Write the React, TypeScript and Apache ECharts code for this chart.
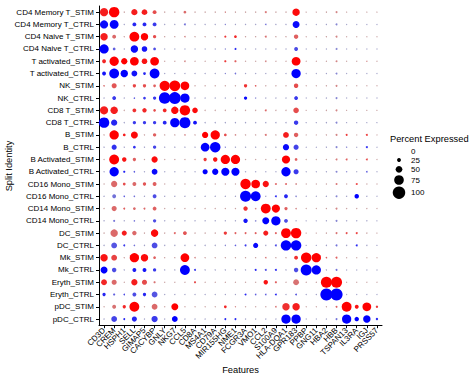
import React, { useEffect, useRef } from "react";
import * as echarts from "echarts";

const features = ["CD3D","CREM","HSPH1","SELL","GIMAP5","CACYBP","GNLY","NKG7","CCL5","CD8A","MS4A1","CD79A","MIR155HG","NME1","FCGR3A","VMO1","CCL2","S100A9","HLA-DQA1","GPR183","PPBP","GNG11","HBA2","HBB","TSPAN13","IL3RA","IGJ","PRSS57"];

const groups = ["CD4 Memory T_STIM","CD4 Memory T_CTRL","CD4 Naive T_STIM","CD4 Naive T_CTRL","T activated_STIM","T activated_CTRL","NK_STIM","NK_CTRL","CD8 T_STIM","CD8 T_CTRL","B_STIM","B_CTRL","B Activated_STIM","B Activated_CTRL","CD16 Mono_STIM","CD16 Mono_CTRL","CD14 Mono_STIM","CD14 Mono_CTRL","DC_STIM","DC_CTRL","Mk_STIM","Mk_CTRL","Eryth_STIM","Eryth_CTRL","pDC_STIM","pDC_CTRL"];

// percent of cells expressing each feature (rows follow `groups`, columns follow `features`)
const percentExpressed = [
  [62,82,3,46,41,25,3,3,15,3,3,3,3,3,3,3,8,3,3,56,2,2,3,8,2,2,2,2],
  [62,68,3,25,25,25,3,3,8,3,3,3,3,3,3,3,5,3,3,52,2,2,3,8,2,2,2,2],
  [56,25,3,77,56,20,3,3,5,3,3,3,10,15,3,3,8,3,3,30,2,2,3,8,2,2,2,2],
  [72,15,3,56,40,15,3,3,3,3,3,3,3,8,3,3,3,3,3,25,2,2,3,8,2,2,2,2],
  [25,72,46,67,40,67,3,3,5,3,3,3,10,10,3,3,5,3,3,67,2,2,3,8,2,2,3,2],
  [25,77,56,42,15,77,3,3,3,3,3,3,3,5,3,3,3,3,3,72,2,2,3,8,2,2,2,2],
  [5,35,3,20,20,15,80,85,67,3,3,3,3,3,20,5,3,3,3,30,2,2,3,8,2,2,2,2],
  [3,25,3,5,15,20,92,95,72,3,3,3,3,3,20,3,3,3,3,25,2,2,3,8,2,2,2,2],
  [62,56,3,25,30,15,25,56,82,40,3,3,3,3,3,3,8,3,3,40,2,2,3,8,2,2,2,2],
  [82,46,3,20,20,20,25,72,87,25,3,3,3,3,3,3,3,3,3,30,2,2,3,8,2,2,2,2],
  [3,72,15,52,3,20,3,3,5,3,46,72,15,5,3,3,8,3,42,30,2,2,3,8,8,2,8,2],
  [3,36,3,15,3,20,3,3,3,3,67,82,3,3,3,3,3,3,46,36,2,2,3,8,3,2,8,2],
  [3,77,30,20,3,46,3,3,3,3,20,30,72,72,3,3,3,3,62,15,2,2,3,8,8,2,8,2],
  [3,72,10,5,3,42,3,3,3,3,36,46,62,62,3,3,3,3,72,36,2,2,3,8,3,2,5,2],
  [3,46,15,25,20,25,3,3,3,3,3,3,3,3,82,67,46,8,8,5,2,2,3,8,3,8,3,2],
  [3,25,5,5,3,25,3,3,3,3,3,3,3,3,87,77,3,8,25,5,2,2,3,8,3,30,3,2],
  [3,36,8,15,8,25,3,3,3,3,3,3,3,3,30,5,77,62,20,5,2,2,3,8,3,3,3,2],
  [3,10,3,5,3,20,3,3,3,3,3,3,3,3,30,5,52,72,25,3,2,2,3,8,3,3,3,2],
  [3,56,36,30,3,56,3,8,25,3,3,3,20,8,8,10,36,10,77,82,2,2,3,8,8,8,3,2],
  [3,42,8,5,3,42,3,3,3,3,3,3,3,5,8,36,3,8,82,82,2,2,3,8,3,8,3,2],
  [56,42,3,72,56,15,3,3,67,5,3,3,3,3,3,3,5,3,3,25,82,72,5,8,2,2,2,2],
  [52,30,3,25,25,20,3,3,77,8,3,3,3,3,3,8,8,8,3,30,87,72,3,8,2,2,2,2],
  [42,36,3,46,36,10,3,3,3,10,3,3,3,3,3,3,30,10,3,42,3,3,87,87,2,2,2,2],
  [20,10,5,25,20,42,3,3,3,3,3,3,3,3,8,5,5,8,3,8,3,3,97,97,2,2,2,2],
  [3,25,20,77,3,42,3,52,3,3,3,3,15,3,3,3,3,5,56,56,2,2,3,8,77,25,67,12],
  [3,42,8,36,3,46,3,42,3,3,3,3,8,8,3,3,3,3,72,72,2,2,3,8,72,30,56,12],
];

// scaled average expression (0 = grey, 1 = full split colour)
const scaledExpression = [
  [0.85,1,0.15,0.85,0.85,0.6,0.15,0.15,0.45,0.15,0.15,0.15,0.3,0.15,0.15,0.15,0.4,0.15,0.15,0.95,0.15,0.15,0.15,0.3,0.15,0.15,0.15,0.15],
  [0.95,1,0.15,0.8,0.8,0.7,0.15,0.15,0.4,0.15,0.15,0.15,0.3,0.15,0.15,0.15,0.4,0.15,0.15,0.95,0.15,0.15,0.15,0.3,0.15,0.15,0.15,0.15],
  [0.85,0.45,0.15,1,1,0.6,0.15,0.15,0.3,0.15,0.15,0.15,0.7,0.8,0.15,0.15,0.4,0.15,0.15,0.5,0.15,0.15,0.15,0.3,0.15,0.15,0.15,0.15],
  [1,0.5,0.15,0.95,0.9,0.6,0.15,0.15,0.15,0.15,0.15,0.15,0.3,0.8,0.15,0.15,0.15,0.15,0.15,0.6,0.15,0.15,0.15,0.3,0.15,0.15,0.15,0.15],
  [0.8,1,1,1,0.9,1,0.15,0.15,0.3,0.15,0.15,0.15,0.7,0.5,0.15,0.15,0.3,0.15,0.15,1,0.15,0.15,0.15,0.3,0.15,0.15,0.3,0.15],
  [0.9,1,1,0.9,0.8,1,0.15,0.15,0.15,0.15,0.15,0.15,0.3,0.4,0.15,0.15,0.15,0.15,0.15,1,0.15,0.15,0.15,0.3,0.15,0.15,0.15,0.15],
  [0.4,0.55,0.15,0.65,0.6,0.5,1,1,1,0.15,0.15,0.15,0.15,0.15,0.75,0.5,0.15,0.15,0.15,0.6,0.15,0.15,0.15,0.3,0.15,0.15,0.15,0.15],
  [0.15,0.7,0.15,0.5,0.7,0.7,1,1,1,0.15,0.15,0.15,0.15,0.15,0.95,0.3,0.15,0.15,0.15,0.7,0.15,0.15,0.15,0.3,0.15,0.15,0.15,0.15],
  [0.85,0.85,0.15,0.75,0.8,0.6,0.8,0.95,1,0.95,0.15,0.15,0.15,0.15,0.15,0.15,0.45,0.15,0.15,0.6,0.15,0.15,0.15,0.3,0.15,0.15,0.15,0.15],
  [1,0.8,0.15,0.7,0.7,0.7,0.8,1,1,0.9,0.15,0.15,0.15,0.15,0.15,0.15,0.15,0.15,0.15,0.7,0.15,0.15,0.15,0.3,0.15,0.15,0.15,0.15],
  [0.15,1,0.85,0.95,0.15,0.5,0.15,0.15,0.3,0.15,1,1,0.6,0.3,0.15,0.15,0.4,0.15,0.85,0.5,0.15,0.15,0.15,0.3,0.7,0.15,0.7,0.15],
  [0.15,0.75,0.15,0.75,0.15,0.65,0.15,0.15,0.15,0.15,1,1,0.3,0.15,0.15,0.15,0.15,0.15,0.95,0.65,0.15,0.15,0.15,0.3,0.3,0.15,0.8,0.15],
  [0.15,1,0.9,0.5,0.15,0.95,0.15,0.15,0.15,0.15,0.7,0.9,1,1,0.15,0.15,0.15,0.15,1,0.5,0.15,0.15,0.15,0.35,0.5,0.15,0.6,0.15],
  [0.15,1,0.85,0.5,0.15,0.95,0.15,0.15,0.15,0.15,1,1,1,1,0.15,0.15,0.15,0.15,1,0.7,0.15,0.15,0.15,0.3,0.3,0.15,0.5,0.15],
  [0.15,0.45,0.6,0.45,0.55,0.5,0.15,0.15,0.15,0.15,0.15,0.15,0.15,0.15,1,1,0.9,0.5,0.5,0.3,0.15,0.15,0.15,0.4,0.15,0.7,0.15,0.15],
  [0.15,0.4,0.5,0.4,0.15,0.6,0.15,0.15,0.15,0.15,0.15,0.15,0.15,0.15,1,1,0.15,0.8,0.8,0.3,0.15,0.15,0.15,0.3,0.15,1,0.15,0.15],
  [0.15,0.45,0.5,0.45,0.45,0.5,0.15,0.15,0.15,0.15,0.15,0.15,0.15,0.15,0.75,0.3,1,1,0.5,0.3,0.15,0.15,0.15,0.3,0.15,0.15,0.15,0.15],
  [0.15,0.4,0.15,0.4,0.15,0.6,0.15,0.15,0.15,0.15,0.15,0.15,0.15,0.15,0.9,0.3,1,1,0.6,0.15,0.15,0.15,0.15,0.3,0.15,0.15,0.15,0.15],
  [0.15,0.45,0.85,0.45,0.15,0.95,0.15,0.5,0.55,0.15,0.15,0.15,0.7,0.5,0.5,0.5,0.85,0.5,1,1,0.15,0.15,0.15,0.4,0.6,0.7,0.15,0.15],
  [0.15,0.55,0.7,0.4,0.15,0.6,0.15,0.15,0.15,0.15,0.15,0.15,0.3,0.5,0.7,0.95,0.15,0.6,1,1,0.15,0.15,0.15,0.4,0.15,0.8,0.15,0.15],
  [0.9,0.65,0.15,1,0.95,0.5,0.15,0.15,1,0.3,0.15,0.15,0.15,0.15,0.15,0.15,0.4,0.15,0.15,0.75,1,1,0.5,0.5,0.15,0.15,0.15,0.15],
  [1,0.6,0.15,0.85,0.9,0.7,0.15,0.15,1,0.7,0.15,0.15,0.15,0.15,0.15,0.8,0.6,0.8,0.15,0.6,1,1,0.15,0.4,0.15,0.15,0.15,0.15],
  [0.8,0.45,0.15,0.85,0.6,0.4,0.15,0.15,0.15,0.6,0.15,0.15,0.15,0.15,0.15,0.15,0.9,0.5,0.15,0.4,0.15,0.15,1,1,0.15,0.15,0.15,0.15],
  [0.8,0.5,0.6,0.6,0.8,0.55,0.15,0.15,0.15,0.15,0.15,0.15,0.15,0.15,0.8,0.5,0.5,0.8,0.15,0.5,0.15,0.15,1,1,0.15,0.15,0.15,0.15],
  [0.15,0.4,0.8,1,0.15,0.45,0.15,1,0.15,0.15,0.15,0.15,0.8,0.3,0.15,0.15,0.15,0.4,0.75,0.85,0.15,0.15,0.15,0.5,1,0.9,1,0.7],
  [0.15,0.65,0.8,0.8,0.15,0.7,0.15,1,0.15,0.15,0.15,0.15,0.8,0.8,0.15,0.15,0.15,0.15,1,1,0.15,0.15,0.15,0.4,1,1,1,0.8],
];

const legendBreaks = [0, 25, 50, 75, 100];

const FONT = "'Liberation Sans', Arial, Helvetica, sans-serif";

function dotSize(pct: number) {
  return 1 + 0.115 * pct;
}

function splitColor(level: number, stim: boolean) {
  const g = 190;
  const t = Math.max(0, Math.min(1, level));
  const lo = Math.round(g * (1 - t));
  const hi = Math.round(g + (255 - g) * t);
  return stim ? `rgb(${hi},${lo},${lo})` : `rgb(${lo},${lo},${hi})`;
}

export default function App() {
  const ref = useRef<HTMLDivElement>(null);

  useEffect(() => {
    if (!ref.current) return;
    const chart = echarts.init(ref.current, undefined, { renderer: "svg" });

    const data: any[] = [];
    groups.forEach((g, r) => {
      const stim = g.endsWith("_STIM");
      features.forEach((_f, c) => {
        const p = percentExpressed[r][c];
        const lv = scaledExpression[r][c];
        data.push({
          value: [c, r, p, lv],
          itemStyle: { color: splitColor(lv, stim) },
        });
      });
    });

    const legendYs = [151, 160, 169.3, 180, 192.7];
    const graphics: any[] = [
      {
        type: "text",
        rotation: Math.PI / 2,
        x: 9,
        y: 166,
        style: {
          text: "Split Identity",
          font: `9.3px ${FONT}`,
          fill: "#000",
          textAlign: "center",
          textVerticalAlign: "middle",
        },
      },
      {
        type: "text",
        x: 240.5,
        y: 370,
        style: {
          text: "Features",
          font: `9.3px ${FONT}`,
          fill: "#000",
          textAlign: "center",
          textVerticalAlign: "middle",
        },
      },
      {
        type: "text",
        x: 390,
        y: 139,
        style: {
          text: "Percent Expressed",
          font: `9.3px ${FONT}`,
          fill: "#000",
          textAlign: "left",
          textVerticalAlign: "middle",
        },
      },
    ];
    legendBreaks.forEach((b, i) => {
      graphics.push({
        type: "circle",
        shape: { cx: 399, cy: legendYs[i], r: dotSize(b) / 2 },
        style: { fill: "#000" },
      });
      graphics.push({
        type: "text",
        x: 411,
        y: legendYs[i],
        style: {
          text: String(b),
          font: `8px ${FONT}`,
          fill: "#000",
          textAlign: "left",
          textVerticalAlign: "middle",
        },
      });
    });

    chart.setOption({
      animation: false,
      backgroundColor: "#fff",
      grid: { left: 99, top: 6, width: 283, height: 319.2, containLabel: false },
      xAxis: {
        type: "category",
        data: features,
        boundaryGap: true,
        axisLine: { show: true, lineStyle: { color: "#000", width: 1 } },
        axisTick: { show: true, alignWithLabel: true, length: 3, lineStyle: { color: "#000" } },
        axisLabel: {
          interval: 0,
          rotate: 45,
          margin: 4,
          fontSize: 8,
          fontFamily: FONT,
          color: "#000",
        },
        splitLine: { show: false },
      },
      yAxis: {
        type: "category",
        data: groups,
        inverse: true,
        boundaryGap: true,
        axisLine: { show: true, lineStyle: { color: "#000", width: 1 } },
        axisTick: { show: true, alignWithLabel: true, length: 3, lineStyle: { color: "#000" } },
        axisLabel: {
          interval: 0,
          margin: 5,
          fontSize: 8,
          fontFamily: FONT,
          color: "#000",
        },
        splitLine: { show: false },
      },
      series: [
        {
          type: "scatter",
          data,
          symbol: "circle",
          symbolSize: (val: number[]) => dotSize(val[2]),
          itemStyle: { opacity: 1 },
          emphasis: { disabled: true },
        },
      ],
      graphic: graphics,
    });

    return () => chart.dispose();
  }, []);

  return (
    <div
      ref={ref}
      style={{ position: "fixed", left: 0, top: 0, width: 474, height: 379 }}
    />
  );
}
